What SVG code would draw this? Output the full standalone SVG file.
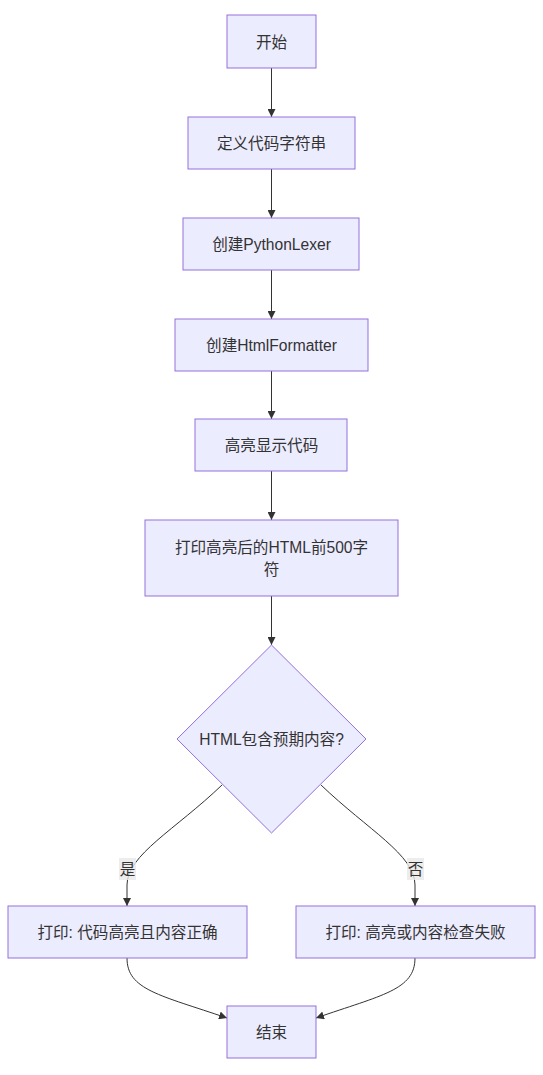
<svg xmlns="http://www.w3.org/2000/svg" width="543" height="1075" viewBox="0 0 543 1075">
<style>
.n{fill:#ECECFF;stroke:#9370DB;stroke-width:1}
.t{font-family:"Liberation Sans","Noto Sans CJK SC",sans-serif;font-size:15.6px;fill:#333;text-anchor:middle;dominant-baseline:central}
.e{fill:none;stroke:#333;stroke-width:1}
.lb{fill:#E8E8E8;opacity:0.8}
</style>
<defs>
<marker id="arr" viewBox="0 0 10 10" refX="10" refY="5" markerWidth="8" markerHeight="8" markerUnits="userSpaceOnUse" orient="auto">
<path d="M0,0 L10,5 L0,10 z" fill="#333"/>
</marker>
</defs>
<rect width="543" height="1075" fill="#fff"/>
<g id="edges">
<path class="e" d="M271.5,68 V117" marker-end="url(#arr)"/>
<path class="e" d="M271.5,169 V218" marker-end="url(#arr)"/>
<path class="e" d="M271.5,270 V319" marker-end="url(#arr)"/>
<path class="e" d="M271.5,371 V419" marker-end="url(#arr)"/>
<path class="e" d="M271.5,471 V520" marker-end="url(#arr)"/>
<path class="e" d="M271.5,596 V645" marker-end="url(#arr)"/>
<path class="e" d="M222,785 C175,830 127,855 127,885 L127,906" marker-end="url(#arr)"/>
<path class="e" d="M321,785 C368,830 415,855 415,885 L415,906" marker-end="url(#arr)"/>
<path class="e" d="M127,958 C127,990 160,995 227,1018" marker-end="url(#arr)"/>
<path class="e" d="M415,958 C415,990 382,995 316,1018" marker-end="url(#arr)"/>
</g>
<g id="label-yes"><rect class="lb" x="119" y="858" width="17" height="22"/><text class="t" x="127.5" y="869">是</text></g>
<g id="label-no"><rect class="lb" x="407" y="858" width="17" height="22"/><text class="t" x="415.5" y="869">否</text></g>
<g id="start"><rect class="n" x="227" y="15" width="89" height="53"/><text class="t" x="271.5" y="42">开始</text></g>
<g id="define"><rect class="n" x="188" y="117" width="167" height="52"/><text class="t" x="271.5" y="143">定义代码字符串</text></g>
<g id="lexer"><rect class="n" x="183" y="218" width="176" height="52"/><text class="t" x="271.5" y="244">创建PythonLexer</text></g>
<g id="formatter"><rect class="n" x="175" y="319" width="193" height="52"/><text class="t" x="271.5" y="345">创建HtmlFormatter</text></g>
<g id="highlight"><rect class="n" x="195" y="419" width="152" height="52"/><text class="t" x="271.5" y="445">高亮显示代码</text></g>
<g id="print500"><rect class="n" x="145" y="520" width="253" height="76"/><text class="t" x="271.5" y="547">打印高亮后的HTML前500字</text><text class="t" x="271.5" y="569">符</text></g>
<g id="decision"><polygon class="n" points="271.5,645 366,739 271.5,833 177,739"/><text class="t" x="271.5" y="739">HTML包含预期内容?</text></g>
<g id="ok"><rect class="n" x="8" y="906" width="239" height="52"/><text class="t" x="127.5" y="932">打印: 代码高亮且内容正确</text></g>
<g id="fail"><rect class="n" x="296" y="906" width="239" height="52"/><text class="t" x="415.5" y="932">打印: 高亮或内容检查失败</text></g>
<g id="end"><rect class="n" x="227" y="1006" width="89" height="52"/><text class="t" x="271.5" y="1032">结束</text></g>
</svg>
